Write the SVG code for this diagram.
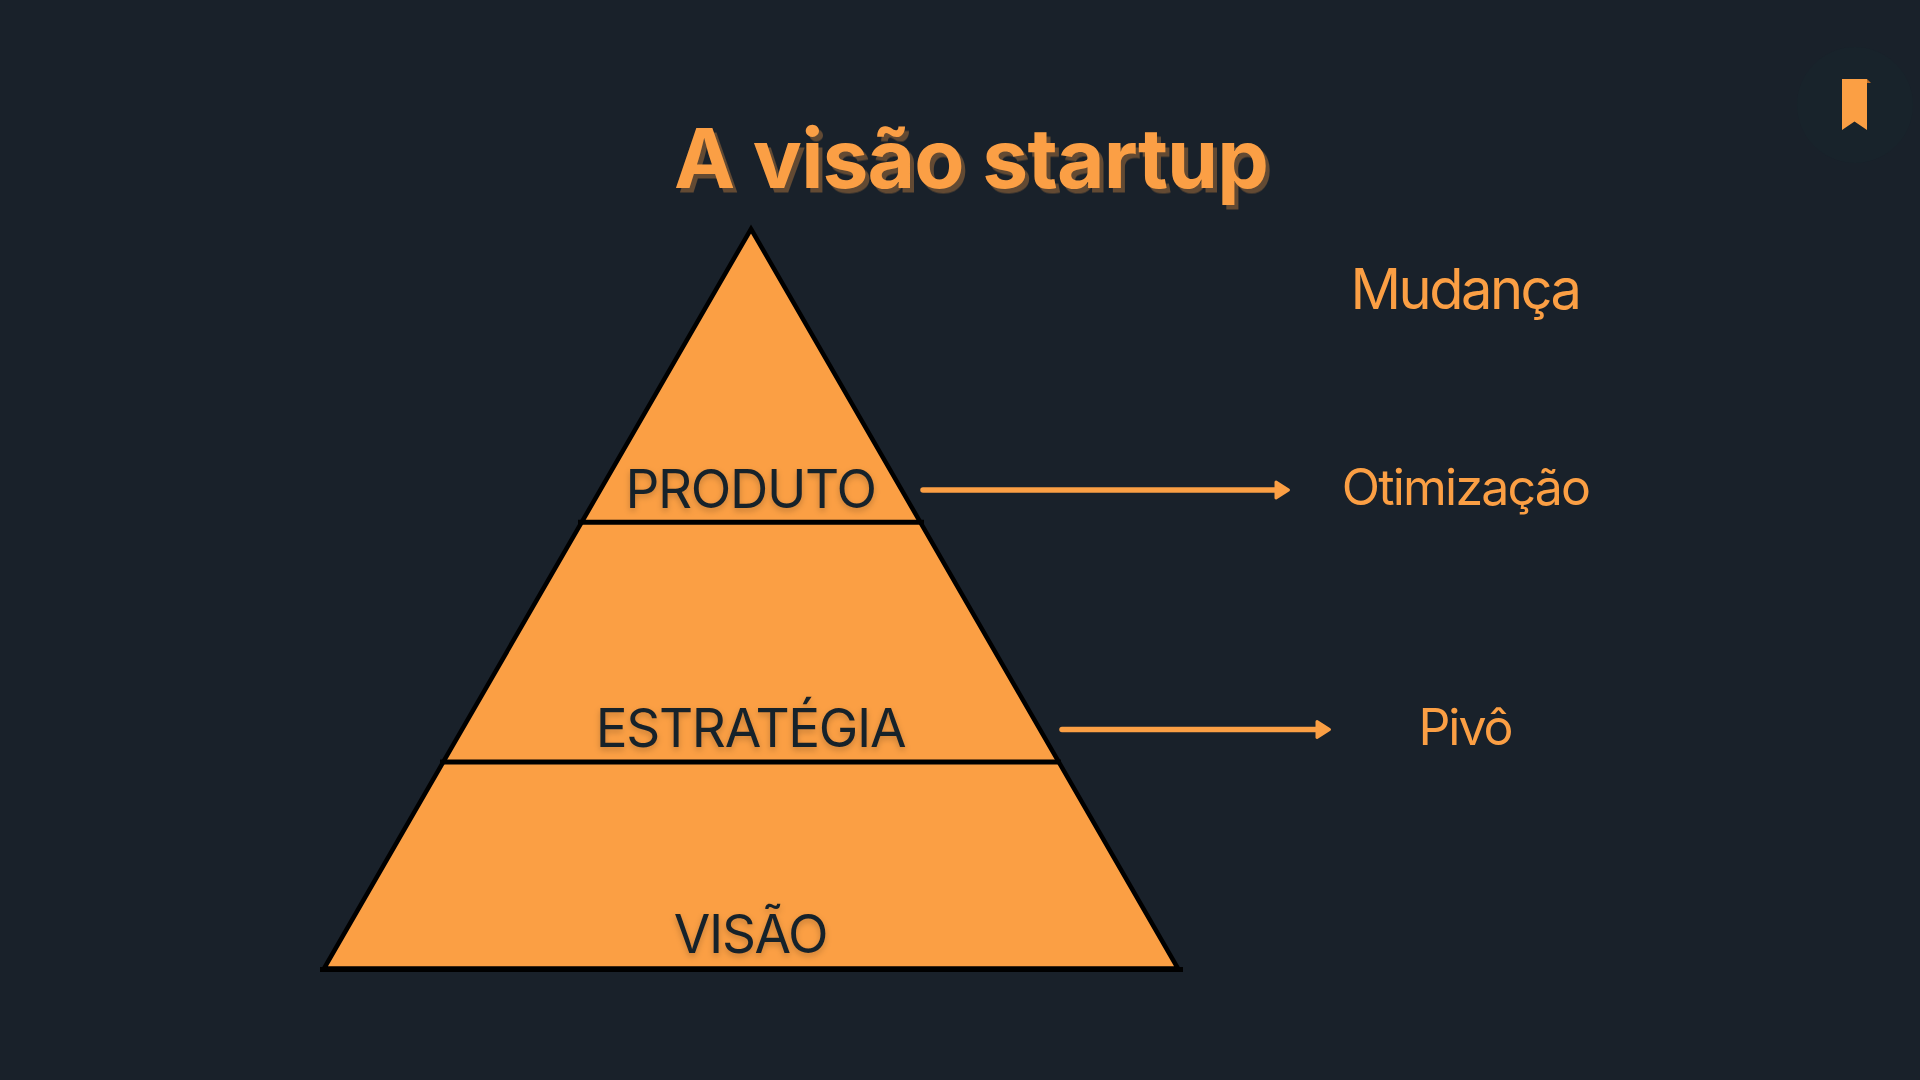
<svg xmlns="http://www.w3.org/2000/svg" width="1920" height="1080" viewBox="0 0 1920 1080">
  <style>
    .bg { fill: #19212A; }
    .title { font: 700 82px "Inter", "Liberation Sans", sans-serif; fill: #FB9F44; text-anchor: middle; letter-spacing: -0.85px; }
    .level { font: 400 53px "Inter", "Liberation Sans", sans-serif; fill: #19212A; text-anchor: middle; letter-spacing: -1.3px; }
    .side { font: 400 50px "Inter", "Liberation Sans", sans-serif; fill: #FB9F44; text-anchor: middle; letter-spacing: -1.8px; }
    .pyr { fill: #FB9F44; stroke: #000; stroke-width: 4.500; }
    .div { stroke: #000; stroke-width: 5; fill: none; }
    .conn { stroke: #FB9F44; stroke-width: 5.500; stroke-linecap: round; fill: none; }
  </style>
  <defs>
    <filter id="ts" x="-5%" y="-20%" width="110%" height="150%">
      <feDropShadow dx="4" dy="4.500" stdDeviation="0" flood-color="#FB9F44" flood-opacity="0.33"/>
    </filter>
    <filter id="ls" x="-10%" y="-30%" width="120%" height="170%">
      <feDropShadow dx="0" dy="3" stdDeviation="3" flood-color="#000" flood-opacity="0.22"/>
    </filter>
    <marker id="arrow" markerUnits="userSpaceOnUse" markerWidth="20" markerHeight="24" refX="3" refY="12" orient="auto">
      <path d="M3 4 L15.500 12 L3 20 Z" fill="#FB9F44" stroke="#FB9F44" stroke-width="3" stroke-linejoin="round"/>
    </marker>
  </defs>
  <rect class="bg" width="1920" height="1080"/>
  <g id="title"><text class="title" x="971" y="188" filter="url(#ts)">A visão startup</text></g>
  <g id="bookmark">
    <circle cx="1855" cy="105" r="58" fill="#18232B"/>
    <path d="M1867 79 L1871 83 L1867 83 Z" fill="#B86A25"/>
    <path d="M1842 79 H1867 V130 L1854.500 121.500 L1842 130 Z" fill="#FB9F44"/>
  </g>
  <g id="pyramid">
    <path class="pyr" d="M751 229 L1178 968.500 H324 Z"/>
    <path d="M320 969.500 H1183" stroke="#000" stroke-width="5" fill="none"/>
  </g>
  <g id="dividers">
    <path class="div" d="M578 522.300 H924"/>
    <path class="div" d="M440 762 H1061"/>
  </g>
  <g id="node-produto"><text class="level" x="750.500" y="508" filter="url(#ls)">PRODUTO</text></g>
  <g id="node-estrategia"><text class="level" x="750.500" y="747" filter="url(#ls)">ESTRATÉGIA</text></g>
  <g id="node-visao"><text class="level" x="750.500" y="953" filter="url(#ls)">VISÃO</text></g>
  <g id="node-mudanca"><text class="side" x="1465" y="309" style="font-size:56px;letter-spacing:-2.5px">Mudança</text></g>
  <g id="node-otimizacao"><text class="side" x="1465.500" y="505">Otimização</text></g>
  <g id="node-pivo"><text class="side" x="1465" y="745" style="letter-spacing:-2px">Pivô</text></g>
  <g id="connectors">
    <path class="conn" d="M923 490 H1276" marker-end="url(#arrow)"/>
    <path class="conn" d="M1062 729.500 H1317" marker-end="url(#arrow)"/>
  </g>
</svg>
